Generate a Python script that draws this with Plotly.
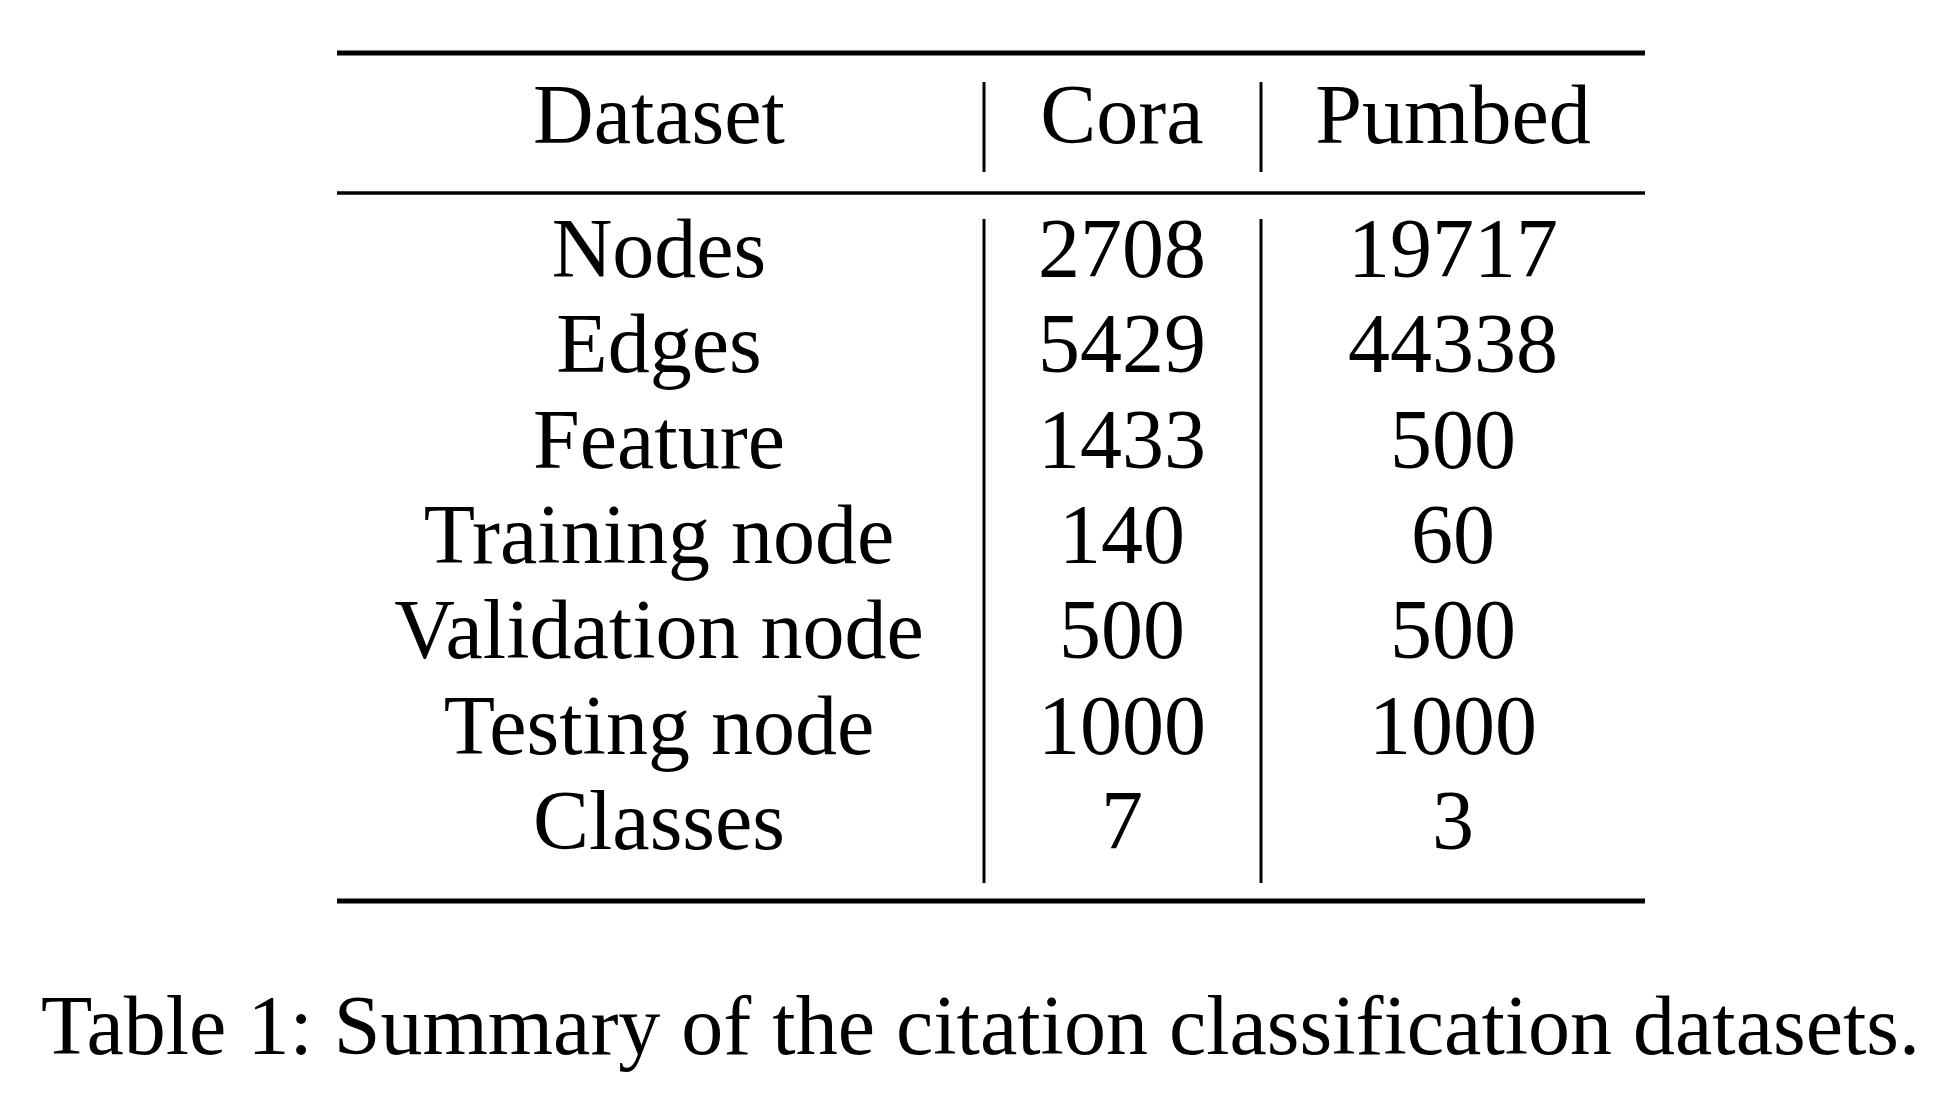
import plotly.graph_objects as go

header = ["Dataset", "Cora", "Pumbed"]
row_labels = ["Nodes", "Edges", "Feature", "Training node", "Validation node", "Testing node", "Classes"]
cora = ["2708", "5429", "1433", "140", "500", "1000", "7"]
pubmed = ["19717", "44338", "500", "60", "500", "1000", "3"]
caption = "Table 1: Summary of the citation classification datasets."

W, H = 1945, 1101
col_x = [651, 1114, 1445]
row_y0, row_dy = 248, 95.3
font = dict(family="Liberation Serif, Times New Roman, serif", size=84, color="black")

fig = go.Figure()
# header
fig.add_trace(go.Scatter(x=col_x, y=[114] * 3, text=header, mode="text",
                         textfont=font, textposition="middle center", hoverinfo="skip"))
# body
cols = [row_labels, cora, pubmed]
for cx, vals in zip(col_x, cols):
    ys = [row_y0 + i * row_dy for i in range(len(vals))]
    fig.add_trace(go.Scatter(x=[cx] * len(vals), y=ys, text=vals, mode="text",
                             textfont=font, textposition="middle center", hoverinfo="skip"))
# caption
fig.add_trace(go.Scatter(x=[W / 2], y=[1025], text=[caption], mode="text",
                         textfont=font, textposition="middle center", hoverinfo="skip"))

# rules
for y, w in [(45, 5), (185, 3.5), (893, 5)]:
    fig.add_shape(type="line", x0=329, x1=1637, y0=y, y1=y, line=dict(color="black", width=w))
for x in [976, 1253]:
    fig.add_shape(type="line", x0=x, x1=x, y0=74, y1=164, line=dict(color="black", width=3))
    fig.add_shape(type="line", x0=x, x1=x, y0=211, y1=875, line=dict(color="black", width=3))

fig.update_layout(width=W, height=H, margin=dict(l=0, r=0, t=0, b=0),
                  plot_bgcolor="white", paper_bgcolor="white", showlegend=False,
                  xaxis=dict(range=[0, W], visible=False, fixedrange=True),
                  yaxis=dict(range=[H, 0], visible=False, fixedrange=True))
fig.write_html("out.html")
